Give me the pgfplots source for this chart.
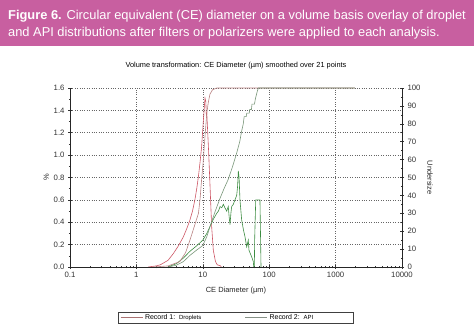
\documentclass[border=0pt]{standalone}
\usepackage{fontspec}
\setmainfont{Liberation Sans}
\usepackage{pgfplots}
\pgfplotsset{compat=1.18}
\definecolor{band}{RGB}{200,95,160}
\definecolor{dropf}{RGB}{205,85,100}
\definecolor{dropc}{RGB}{185,130,130}
\definecolor{apif}{RGB}{60,140,65}
\definecolor{apic}{RGB}{120,150,120}
\definecolor{leg1}{RGB}{170,115,115}
\definecolor{leg2}{RGB}{135,145,135}
\begin{document}
\begin{tikzpicture}
\useasboundingbox (0bp,0bp) rectangle (474bp,336bp);
\fill[white] (0bp,0bp) rectangle (474bp,336bp);
\fill[band] (0bp,290bp) rectangle (474bp,336bp);
\node[anchor=base west, text=white, inner sep=0pt, font=\fontsize{12.9}{14}\selectfont] at (8bp,316bp) {\textbf{Figure 6.} Circular equivalent (CE) diameter on a volume basis overlay of droplet};
\node[anchor=base west, text=white, inner sep=0pt, font=\fontsize{12.9}{14}\selectfont] at (8bp,299bp) {and API distributions after filters or polarizers were applied to each analysis.};
\begin{axis}[at={(70bp,69bp)}, anchor=south west, scale only axis,
  width=332bp, height=179bp, xmode=log, xmin=0.1, xmax=10000,
  tick align=center, major tick length=4bp, minor tick length=2.5bp,
  tick style={black!80, line width=0.5pt},
  axis line style={black!85, line width=0.7pt},
  ticklabel style={font=\fontsize{7.8}{9}\selectfont, text=black!80},
  /pgf/number format/assume math mode=true,
  label style={font=\fontsize{7.5}{9}\selectfont, text=black!85},
  axis x line*=bottom, axis y line*=left,
  ymin=0, ymax=1.6,
  ytick={0,0.2,0.4,0.6,0.8,1.0,1.2,1.4,1.6},
  yticklabel style={/pgf/number format/fixed, /pgf/number format/fixed zerofill, /pgf/number format/precision=1},
  minor y tick num=1,
  xtick={0.1,1,10,100,1000,10000},
  xticklabels={0.1,1,10,100,1000,10000},
  xmajorgrids, ymajorgrids,
  major grid style={dotted, black!60, line width=0.6pt},
  ylabel={\%}, xlabel={CE Diameter (µm)},
  ylabel style={xshift=0bp, yshift=-2bp},
  xlabel style={at={(0.5,0)}, anchor=base, yshift=-25bp},
  title={Volume transformation: CE Diameter (µm) smoothed over 21 points},
  title style={font=\fontsize{7.4}{8}\selectfont, at={(0.5,1)}, anchor=base, yshift=15bp},
]
\addplot[dropf, line width=0.6pt] coordinates {
(1.5,0) (2.0,0.01) (2.3,0.02) (3.0,0.06) (3.6,0.12) (4.3,0.19) (5.1,0.27) (5.8,0.35)
(6.4,0.42) (7.0,0.50) (7.6,0.60) (8.1,0.70) (8.6,0.81) (9.1,0.94) (9.6,1.075) (10.2,1.31)
(10.6,1.45) (10.8,1.51) (11.1,1.48) (11.3,1.36) (11.5,1.37) (12.2,1.05) (12.8,0.75)
(13.6,0.36) (14.4,0.15) (15.5,0.05) (16.5,0.02) (18.5,0.01) (19.0,0)};
\addplot[apif, line width=0.6pt] coordinates {
(3,0) (4,0.03) (5.1,0.08) (6.4,0.14) (8.1,0.19) (10,0.24) (11.5,0.3) (12.8,0.36)
(14.5,0.43) (16.2,0.48) (17.2,0.50) (18.2,0.54) (19.3,0.53) (20.4,0.56) (21.5,0.53)
(22.9,0.50) (24.2,0.54) (25.0,0.44) (25.7,0.38) (26.5,0.48) (27.2,0.54) (28.8,0.56)
(30.5,0.60) (32.4,0.64) (33.4,0.72) (34.3,0.86) (35.2,0.80) (36.3,0.6) (38.5,0.42)
(41,0.33) (43.2,0.27) (45.8,0.18) (48.4,0.24) (49.6,0.15) (52,0.12) (54.5,0.09)
(57.6,0.05) (58.5,0) (59.7,0) (60.5,0.26) (62.7,0.6) (72.6,0.6) (75.3,0)};
\end{axis}
\begin{axis}[at={(70bp,69bp)}, anchor=south west, scale only axis,
  width=332bp, height=179bp, xmode=log, xmin=0.1, xmax=10000,
  tick align=center, major tick length=4bp, minor tick length=2.5bp,
  tick style={black!80, line width=0.5pt},
  axis line style={black!85, line width=0.7pt},
  ticklabel style={font=\fontsize{7.8}{9}\selectfont, text=black!80},
  /pgf/number format/assume math mode=true,
  label style={font=\fontsize{7.5}{9}\selectfont, text=black!85},
  axis y line*=right, axis x line=none,
  ymin=0, ymax=100,
  ytick={0,10,20,30,40,50,60,70,80,90,100},
  minor y tick num=1,
  ylabel={Undersize},
  ylabel style={rotate=180},
  legend style={at={(0.5,-0.283)}, anchor=center, legend columns=2,
    draw=black!75, line width=0.6pt, font=\fontsize{7}{8}\selectfont,
    inner ysep=0.5bp, inner xsep=2bp},
  legend image code/.code={\draw[#1] (0bp,0bp) -- (22bp,0bp);},
]
\addplot[dropc, line width=0.6pt, forget plot] coordinates {
(1.8,0) (3.0,0.6) (4.5,3) (5.5,8) (6.4,15) (7.5,23) (8.6,30) (9.1,38) (9.6,49)
(10.1,58) (10.5,67) (11.0,77) (11.5,86) (12.1,92) (12.8,96.5) (14.0,99) (16.2,100) (1950,100)};
\addplot[apic, line width=0.6pt, forget plot] coordinates {
(3,0) (4,1) (5.1,3) (6.4,6.5) (8.1,9.5) (10,12) (11.5,17) (12.8,22.5) (15,30)
(18,38) (21,44) (24.2,49) (28,56) (32,63) (36,70) (38.5,76) (40.7,80) (42,84)
(45,84) (46,86) (50,86) (51,88) (54,88) (55,91) (60,91) (62,94) (66,98) (68.6,100) (1950,100)};
\addlegendimage{leg1, line width=0.6pt}
\addlegendentry{\makebox[98bp][l]{Record 1:\ \ {\fontsize{6}{7}\selectfont Droplets}}}
\addlegendimage{leg2, line width=0.6pt}
\addlegendentry{\makebox[80bp][l]{Record 2:\ \ {\fontsize{6}{7}\selectfont API}}}
\end{axis}
\end{tikzpicture}
\end{document}
